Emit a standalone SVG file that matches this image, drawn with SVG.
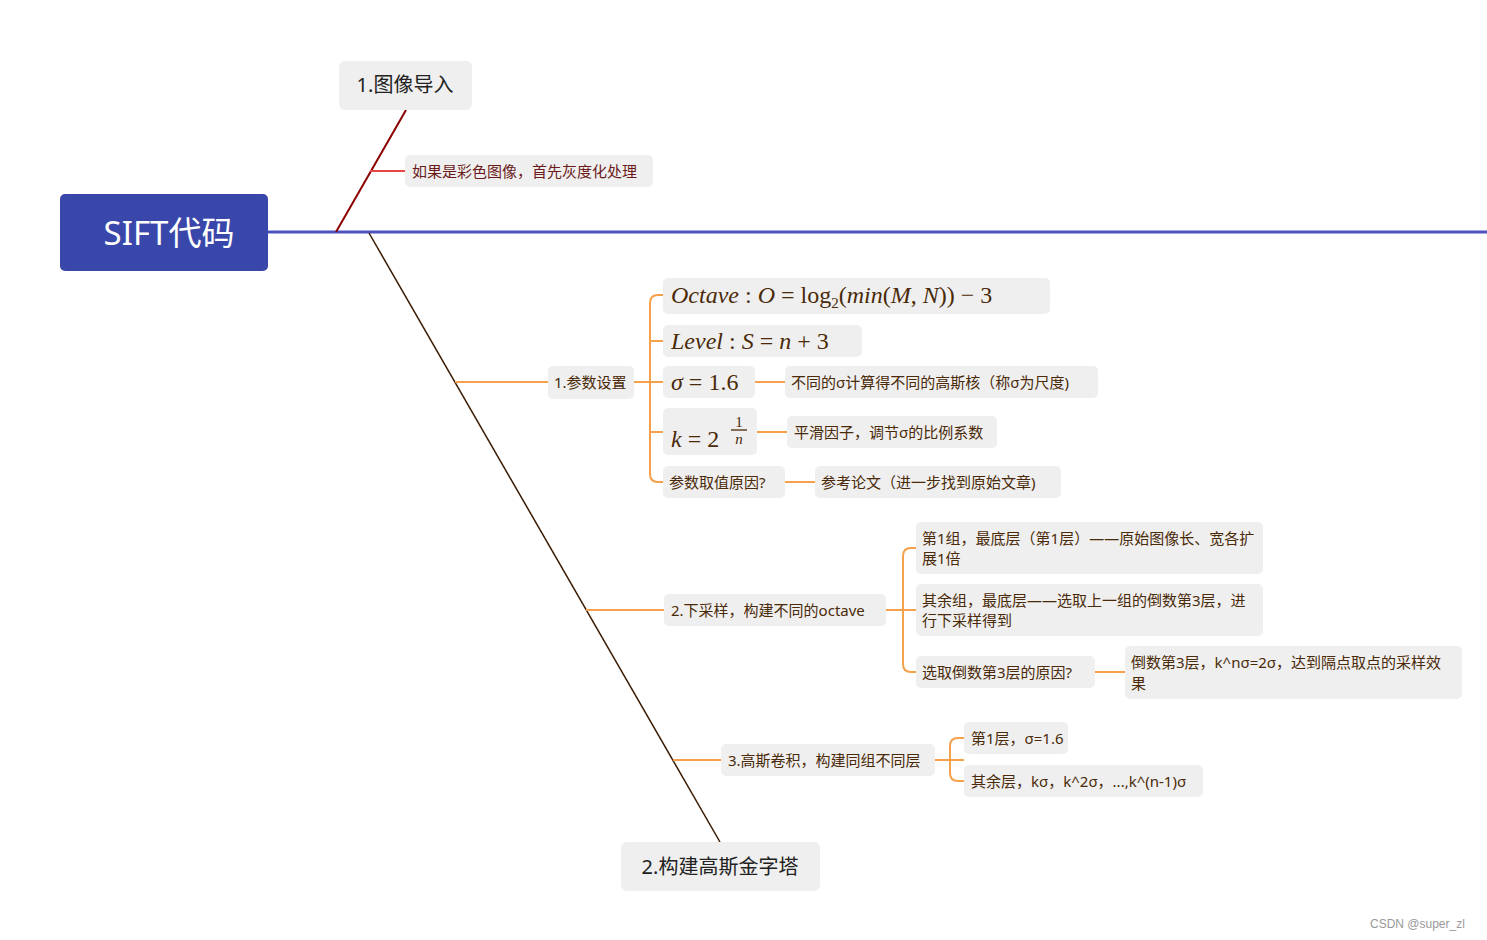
<svg xmlns="http://www.w3.org/2000/svg" width="1487" height="940" viewBox="0 0 1487 940">
<style>
.n{fill:#efefef}
.t{font-family:"Noto Sans","Noto Sans CJK SC",sans-serif;font-size:15px;fill:#4a2a08}
.m{font-family:"Liberation Serif",serif;font-size:24px;fill:#4a2a08}
.i{font-style:italic}
.o{stroke:#f5a04a;stroke-width:2;fill:none}
</style>
<rect width="1487" height="940" fill="#fff"/>
<g id="connectors">
<line x1="268" y1="232" x2="1487" y2="232" stroke="#4c50c0" stroke-width="3"/>
<line x1="336" y1="232" x2="406" y2="110" stroke="#8b0000" stroke-width="2"/>
<line x1="370" y1="171" x2="405" y2="171" stroke="#e84545" stroke-width="2"/>
<line x1="369" y1="233" x2="720" y2="842" stroke="#3a1a00" stroke-width="1.5"/>
<path class="o" d="M455 382H548M634 382H663M663 295H658Q650 295 650 303V474Q650 482 658 482H663M650 341H663M650 432H663M755 382H785M757 432H787M785 482H815"/>
<path class="o" d="M586 610H664M886 610H916M916 548H911Q903 548 903 556V664Q903 672 911 672H916M1095 672H1125"/>
<path class="o" d="M673 760H721M935 760H964M964 738H958Q950 738 950 746V773Q950 781 958 781H964"/>
</g>
<g id="root"><rect x="60" y="194" width="208" height="77" rx="5" fill="#3a47aa"/><text x="169" y="245" font-family="Noto Sans,Noto Sans CJK SC,sans-serif" font-size="33" fill="#fff" text-anchor="middle">SIFT代码</text></g>
<g id="n1"><rect class="n" x="339" y="61" width="133" height="49" rx="6"/><text class="t" x="405" y="92" font-size="20" text-anchor="middle" style="font-size:20px;fill:#222">1.图像导入</text></g>
<g id="n1a"><rect class="n" x="405" y="155" width="248" height="32" rx="5"/><text class="t" x="412" y="177" style="fill:#6b1a1a">如果是彩色图像，首先灰度化处理</text></g>
<g id="n2"><rect class="n" x="621" y="842" width="199" height="49" rx="6"/><text class="t" x="720" y="874" text-anchor="middle" style="font-size:20px;fill:#222">2.构建高斯金字塔</text></g>
<g id="p"><rect class="n" x="548" y="366" width="86" height="33" rx="5"/><text class="t" x="554" y="388">1.参数设置</text></g>
<g id="p1"><rect class="n" x="663" y="278" width="387" height="36" rx="5"/><text class="m" x="671" y="303"><tspan class="i">Octave</tspan> : <tspan class="i">O</tspan> = log<tspan font-size="15" dy="5">2</tspan><tspan dy="-5">(</tspan><tspan class="i">min</tspan>(<tspan class="i">M</tspan>, <tspan class="i">N</tspan>)) − 3</text></g>
<g id="p2"><rect class="n" x="663" y="325" width="199" height="32" rx="5"/><text class="m" x="671" y="349"><tspan class="i">Level</tspan> : <tspan class="i">S</tspan> = <tspan class="i">n</tspan> + 3</text></g>
<g id="p3"><rect class="n" x="663" y="366" width="92" height="32" rx="5"/><text class="m" x="671" y="390"><tspan class="i">σ</tspan> = 1.6</text></g>
<g id="p3a"><rect class="n" x="785" y="366" width="313" height="32" rx="5"/><text class="t" x="791" y="388">不同的σ计算得不同的高斯核（称σ为尺度)</text></g>
<g id="p4"><rect class="n" x="663" y="408" width="94" height="47" rx="5"/><text class="m" x="671" y="447"><tspan class="i">k</tspan> = 2</text><text class="m" x="739" y="427" font-size="15" text-anchor="middle" style="font-size:15px">1</text><line x1="731" y1="430" x2="747" y2="430" stroke="#4a2a08" stroke-width="1.3"/><text class="m i" x="739" y="444" text-anchor="middle" style="font-size:15px">n</text></g>
<g id="p4a"><rect class="n" x="787" y="416" width="210" height="32" rx="5"/><text class="t" x="794" y="438">平滑因子，调节σ的比例系数</text></g>
<g id="p5"><rect class="n" x="663" y="466" width="122" height="32" rx="5"/><text class="t" x="669" y="488">参数取值原因?</text></g>
<g id="p5a"><rect class="n" x="815" y="466" width="246" height="32" rx="5"/><text class="t" x="821" y="488">参考论文（进一步找到原始文章)</text></g>
<g id="d"><rect class="n" x="664" y="594" width="222" height="32" rx="5"/><text class="t" x="671" y="616">2.下采样，构建不同的octave</text></g>
<g id="d1"><rect class="n" x="916" y="522" width="347" height="52" rx="5"/><text class="t" x="922" y="544">第1组，最底层（第1层）——原始图像长、宽各扩</text><text class="t" x="922" y="564">展1倍</text></g>
<g id="d2"><rect class="n" x="916" y="584" width="347" height="52" rx="5"/><text class="t" x="922" y="606">其余组，最底层——选取上一组的倒数第3层，进</text><text class="t" x="922" y="626">行下采样得到</text></g>
<g id="d3"><rect class="n" x="916" y="656" width="179" height="32" rx="5"/><text class="t" x="922" y="678">选取倒数第3层的原因?</text></g>
<g id="d3a"><rect class="n" x="1125" y="646" width="337" height="53" rx="5"/><text class="t" x="1131" y="668">倒数第3层，k^nσ=2σ，达到隔点取点的采样效</text><text class="t" x="1131" y="689">果</text></g>
<g id="g"><rect class="n" x="721" y="744" width="214" height="32" rx="5"/><text class="t" x="728" y="766">3.高斯卷积，构建同组不同层</text></g>
<g id="g1"><rect class="n" x="964" y="722" width="104" height="32" rx="5"/><text class="t" x="971" y="744">第1层，σ=1.6</text></g>
<g id="g2"><rect class="n" x="964" y="765" width="239" height="32" rx="5"/><text class="t" x="971" y="787">其余层，kσ，k^2σ，...,k^(n-1)σ</text></g>
<text x="1370" y="928" font-family="Liberation Sans,sans-serif" font-size="12" fill="#999">CSDN @super_zl</text>
</svg>
